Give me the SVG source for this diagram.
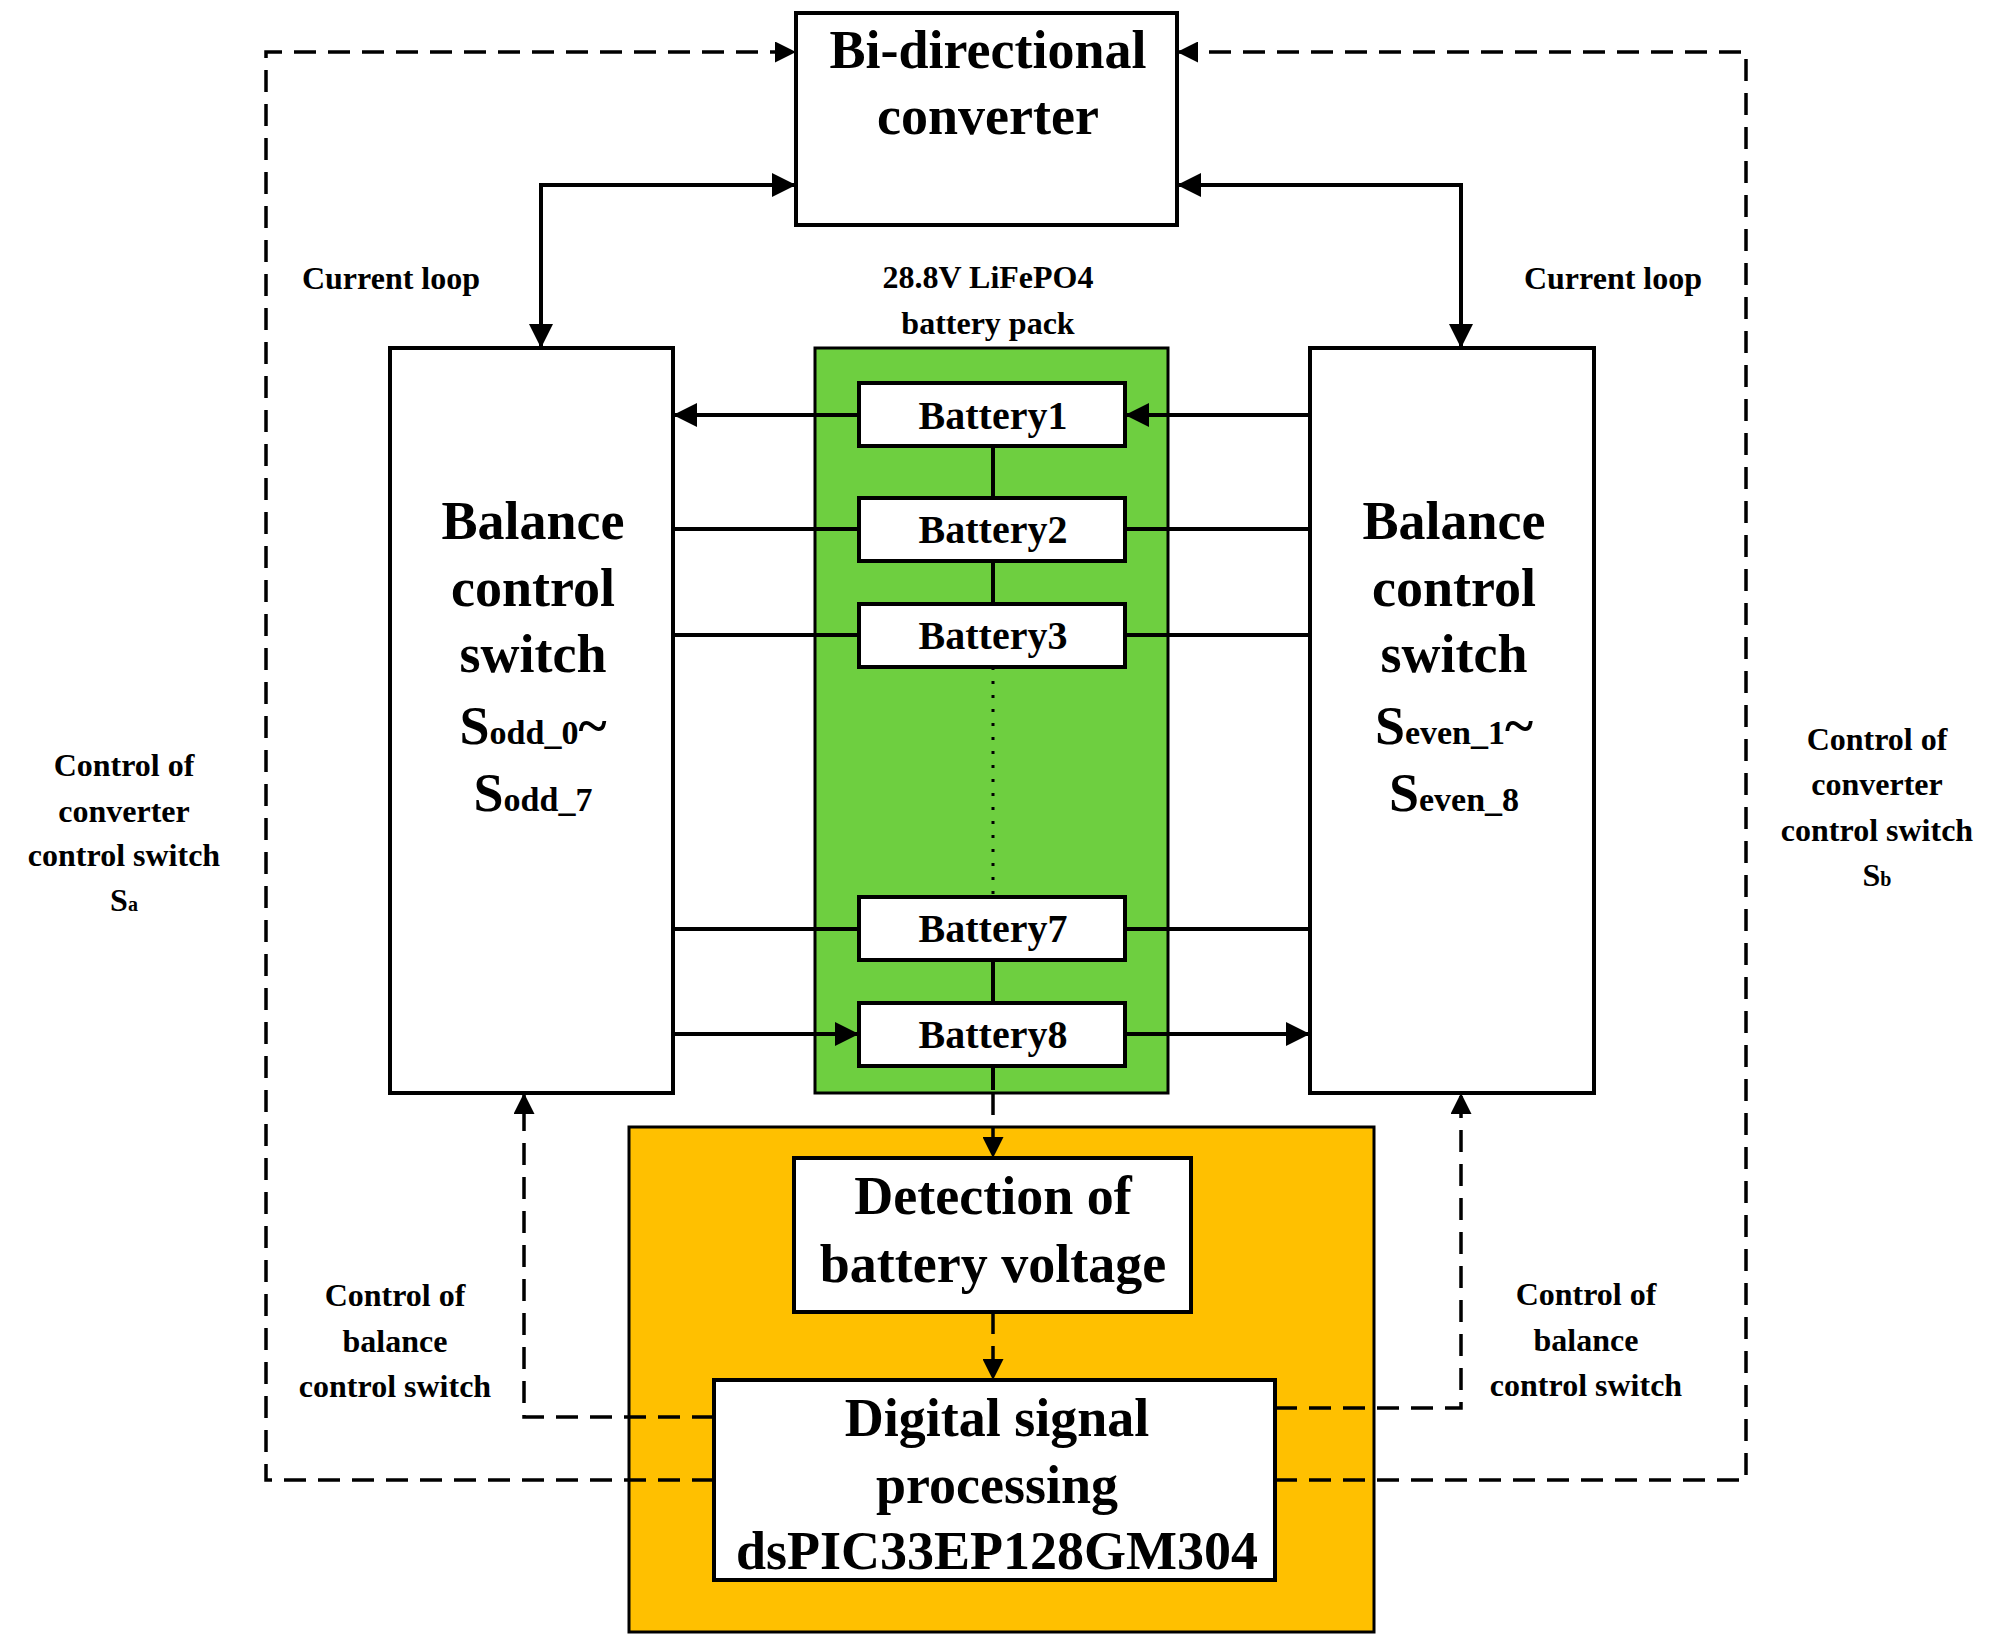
<svg xmlns="http://www.w3.org/2000/svg" width="2004" height="1650" viewBox="0 0 2004 1650">
<style>
text{font-family:"Liberation Serif","Times New Roman",serif;font-weight:bold;text-anchor:middle;fill:#000}
.box{fill:#fff;stroke:#000;stroke-width:4}
.ln{fill:none;stroke:#000;stroke-width:4}
.ds{fill:none;stroke:#000;stroke-width:3.5;stroke-dasharray:22,12}
.big{font-size:54px}
.bat{font-size:40px}
.lbl{font-size:32px}
</style>
<defs>
<marker id="a" viewBox="0 0 10 10" refX="10" refY="5" markerWidth="8" markerHeight="6" markerUnits="strokeWidth" orient="auto-start-reverse"><path d="M0,0L10,5L0,10z" fill="#000"/></marker>
</defs>
<rect width="2004" height="1650" fill="#fff"/>
<g id="pack"><rect x="815" y="348" width="353" height="745" fill="#6ecf40" stroke="#000" stroke-width="3"/></g>
<g id="dspzone"><rect x="629" y="1127" width="745" height="505" fill="#ffc000" stroke="#000" stroke-width="3"/></g>
<g id="connectors">
<path class="ln" d="M993 446V498M993 561V604M993 960V1003M993 1066V1090"/>
<path d="M993 667V897" fill="none" stroke="#000" stroke-width="3" stroke-dasharray="3,11"/>
<path class="ln" d="M673 415H859M673 529H859M673 635H859M673 929H859M673 1034H859" marker-start="url(#a)" marker-end="url(#a)"/>
<path class="ln" d="M1125 415H1310M1125 529H1310M1125 635H1310M1125 929H1310M1125 1034H1310" marker-start="url(#a)" marker-end="url(#a)"/>
<path class="ln" d="M796 185H541V348" marker-start="url(#a)" marker-end="url(#a)"/>
<path class="ln" d="M1177 185H1461V348" marker-start="url(#a)" marker-end="url(#a)"/>
<path class="ds" d="M993 1093V1158" marker-end="url(#a)"/>
<path class="ds" d="M993 1312V1380" marker-end="url(#a)"/>
<path class="ds" d="M714 1417H524V1093" marker-end="url(#a)"/>
<path class="ds" d="M1275 1408H1461V1093" marker-end="url(#a)"/>
<path class="ds" d="M714 1480H266V52H796" marker-end="url(#a)"/>
<path class="ds" d="M1275 1480H1746V52H1177" marker-end="url(#a)"/>
</g>
<g id="converter"><rect class="box" x="796" y="13" width="381" height="212"/>
<text class="big" x="988" y="68">Bi-directional</text><text class="big" x="988" y="134">converter</text></g>
<g id="bcsL"><rect class="box" x="390" y="348" width="283" height="745"/>
<text class="big" x="533" y="539">Balance</text><text class="big" x="533" y="606">control</text><text class="big" x="533" y="672">switch</text>
<text class="big" x="533" y="744">S<tspan font-size="34">odd_0</tspan>~</text><text class="big" x="533" y="811">S<tspan font-size="34">odd_7</tspan></text></g>
<g id="bcsR"><rect class="box" x="1310" y="348" width="284" height="745"/>
<text class="big" x="1454" y="539">Balance</text><text class="big" x="1454" y="606">control</text><text class="big" x="1454" y="672">switch</text>
<text class="big" x="1454" y="744">S<tspan font-size="34">even_1</tspan>~</text><text class="big" x="1454" y="811">S<tspan font-size="34">even_8</tspan></text></g>
<g id="b1"><rect class="box" x="859" y="383" width="266" height="63"/><text class="bat" x="993" y="429">Battery1</text></g>
<g id="b2"><rect class="box" x="859" y="498" width="266" height="63"/><text class="bat" x="993" y="543">Battery2</text></g>
<g id="b3"><rect class="box" x="859" y="604" width="266" height="63"/><text class="bat" x="993" y="649">Battery3</text></g>
<g id="b7"><rect class="box" x="859" y="897" width="266" height="63"/><text class="bat" x="993" y="942">Battery7</text></g>
<g id="b8"><rect class="box" x="859" y="1003" width="266" height="63"/><text class="bat" x="993" y="1048">Battery8</text></g>
<g id="detect"><rect class="box" x="794" y="1158" width="397" height="154"/>
<text class="big" x="993" y="1214">Detection of</text><text class="big" x="993" y="1282">battery voltage</text></g>
<g id="dsp"><rect class="box" x="714" y="1380" width="561" height="200"/>
<text class="big" x="997" y="1436">Digital signal</text><text class="big" x="997" y="1503">processing</text><text class="big" x="997" y="1569">dsPIC33EP128GM304</text></g>
<g id="labels">
<text class="lbl" x="391" y="289">Current loop</text>
<text class="lbl" x="1613" y="289">Current loop</text>
<text class="lbl" x="988" y="288">28.8V LiFePO4</text><text class="lbl" x="988" y="334">battery pack</text>
<text class="lbl" x="124" y="776">Control of</text><text class="lbl" x="124" y="822">converter</text><text class="lbl" x="124" y="866">control switch</text><text class="lbl" x="124" y="911">S<tspan font-size="20">a</tspan></text>
<text class="lbl" x="1877" y="750">Control of</text><text class="lbl" x="1877" y="795">converter</text><text class="lbl" x="1877" y="841">control switch</text><text class="lbl" x="1877" y="886">S<tspan font-size="20">b</tspan></text>
<text class="lbl" x="395" y="1306">Control of</text><text class="lbl" x="395" y="1352">balance</text><text class="lbl" x="395" y="1397">control switch</text>
<text class="lbl" x="1586" y="1305">Control of</text><text class="lbl" x="1586" y="1351">balance</text><text class="lbl" x="1586" y="1396">control switch</text>
</g>
</svg>
